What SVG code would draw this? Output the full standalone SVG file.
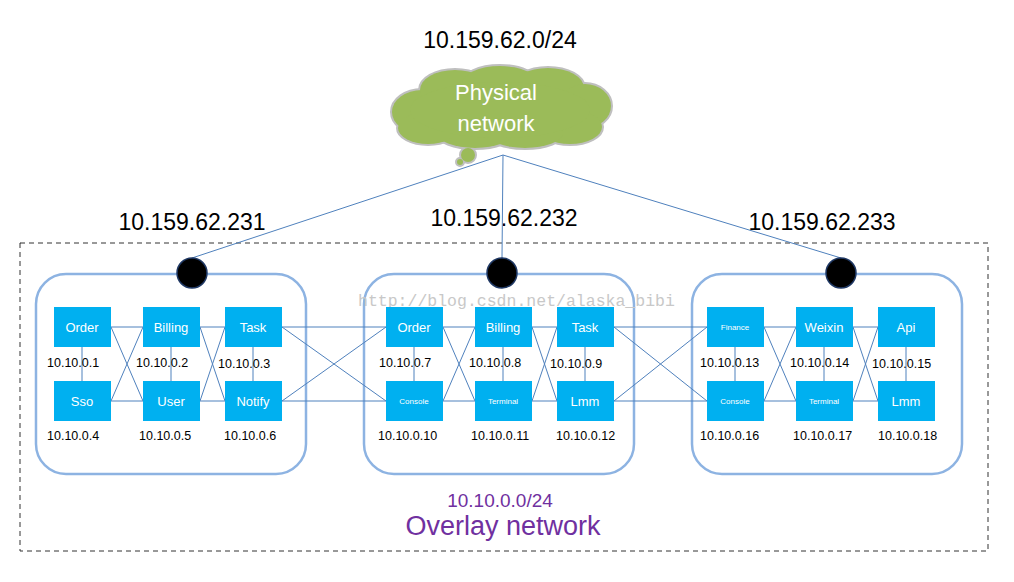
<svg xmlns="http://www.w3.org/2000/svg" width="1014" height="582" viewBox="0 0 1014 582">
<style>
.n rect{fill:#00b0f0}
.n text{fill:#fff;font-family:"Liberation Sans",Arial,sans-serif;font-size:13px;text-anchor:middle}
.n text.s{font-size:8px}
.ip{font-family:"Liberation Sans",Arial,sans-serif;font-size:12.5px;fill:#000}
.big{font-family:"Liberation Sans",Arial,sans-serif;font-size:23px;fill:#000}
.grp{fill:none;stroke:#8db3e2;stroke-width:2.5}
.c line{stroke:#4f81bd;stroke-width:1}
.hub{fill:#000;stroke:#1f3864;stroke-width:1.5}
</style>
<rect x="20" y="243" width="968" height="308" fill="none" stroke="#333" stroke-dasharray="5,4" stroke-width="1"/>
<g id="cloud">
<g fill="none" stroke="#bfbfbf" stroke-width="4">
<ellipse cx="422" cy="112" rx="30" ry="22"/><ellipse cx="455" cy="90" rx="35" ry="20"/><ellipse cx="500" cy="84" rx="38" ry="18"/><ellipse cx="548" cy="88" rx="36" ry="20"/><ellipse cx="585" cy="106" rx="26" ry="22"/><ellipse cx="570" cy="127" rx="32" ry="17"/><ellipse cx="525" cy="133" rx="38" ry="15"/><ellipse cx="475" cy="133" rx="38" ry="15"/><ellipse cx="428" cy="128" rx="30" ry="16"/>
<circle cx="468" cy="155" r="7"/><circle cx="460" cy="162" r="3"/>
</g>
<g fill="#9bbb59">
<ellipse cx="422" cy="112" rx="30" ry="22"/><ellipse cx="455" cy="90" rx="35" ry="20"/><ellipse cx="500" cy="84" rx="38" ry="18"/><ellipse cx="548" cy="88" rx="36" ry="20"/><ellipse cx="585" cy="106" rx="26" ry="22"/><ellipse cx="570" cy="127" rx="32" ry="17"/><ellipse cx="525" cy="133" rx="38" ry="15"/><ellipse cx="475" cy="133" rx="38" ry="15"/><ellipse cx="428" cy="128" rx="30" ry="16"/><ellipse cx="500" cy="110" rx="90" ry="28"/>
<circle cx="468" cy="155" r="7"/><circle cx="460" cy="162" r="3"/>
</g>
<text x="496" y="100" font-family="Liberation Sans,Arial,sans-serif" font-size="22" fill="#fff" text-anchor="middle">Physical</text>
<text x="496" y="131" font-family="Liberation Sans,Arial,sans-serif" font-size="22" fill="#fff" text-anchor="middle">network</text>
</g>
<text class="big" x="500" y="48" text-anchor="middle">10.159.62.0/24</text>
<text class="big" x="192" y="230" text-anchor="middle">10.159.62.231</text>
<text class="big" x="504" y="226" text-anchor="middle">10.159.62.232</text>
<text class="big" x="822" y="230" text-anchor="middle">10.159.62.233</text>
<text x="500" y="507" font-family="Liberation Sans,Arial,sans-serif" font-size="19" fill="#7030a0" text-anchor="middle">10.10.0.0/24</text>
<text x="503" y="535" font-family="Liberation Sans,Arial,sans-serif" font-size="27" fill="#7030a0" text-anchor="middle">Overlay network</text>
<rect class="grp" x="36" y="274" width="270" height="200" rx="30"/>
<rect class="grp" x="364" y="274" width="270" height="200" rx="30"/>
<rect class="grp" x="692" y="274" width="270" height="200" rx="30"/>
<g id="connectors" class="c">
<line x1="503" y1="155" x2="192" y2="258"/><line x1="503" y1="155" x2="502" y2="258"/><line x1="503" y1="155" x2="841" y2="258"/>
<g id="lc">
<line x1="111" y1="327" x2="143" y2="327"/><line x1="111" y1="401" x2="143" y2="401"/><line x1="111" y1="327" x2="143" y2="401"/><line x1="111" y1="401" x2="143" y2="327"/>
<line x1="200" y1="327" x2="225" y2="327"/><line x1="200" y1="401" x2="225" y2="401"/><line x1="200" y1="327" x2="225" y2="401"/><line x1="200" y1="401" x2="225" y2="327"/>
<line x1="82" y1="347" x2="82" y2="381"/><line x1="171" y1="347" x2="171" y2="381"/><line x1="253" y1="347" x2="253" y2="381"/>
<line x1="282" y1="327" x2="386" y2="327"/><line x1="282" y1="401" x2="386" y2="401"/><line x1="282" y1="327" x2="386" y2="401"/><line x1="282" y1="401" x2="386" y2="327"/>
</g>
<g transform="translate(332,0)">
<line x1="111" y1="327" x2="143" y2="327"/><line x1="111" y1="401" x2="143" y2="401"/><line x1="111" y1="327" x2="143" y2="401"/><line x1="111" y1="401" x2="143" y2="327"/>
<line x1="200" y1="327" x2="225" y2="327"/><line x1="200" y1="401" x2="225" y2="401"/><line x1="200" y1="327" x2="225" y2="401"/><line x1="200" y1="401" x2="225" y2="327"/>
<line x1="82" y1="347" x2="82" y2="381"/><line x1="171" y1="347" x2="171" y2="381"/><line x1="253" y1="347" x2="253" y2="381"/>
<line x1="282" y1="327" x2="375" y2="327"/><line x1="282" y1="401" x2="375" y2="401"/><line x1="282" y1="327" x2="375" y2="401"/><line x1="282" y1="401" x2="375" y2="327"/>
</g>
<g transform="translate(653,0)">
<line x1="111" y1="327" x2="143" y2="327"/><line x1="111" y1="401" x2="143" y2="401"/><line x1="111" y1="327" x2="143" y2="401"/><line x1="111" y1="401" x2="143" y2="327"/>
<line x1="200" y1="327" x2="225" y2="327"/><line x1="200" y1="401" x2="225" y2="401"/><line x1="200" y1="327" x2="225" y2="401"/><line x1="200" y1="401" x2="225" y2="327"/>
<line x1="82" y1="347" x2="82" y2="381"/><line x1="171" y1="347" x2="171" y2="381"/><line x1="253" y1="347" x2="253" y2="381"/>
</g>
</g>
<circle id="hub1" class="hub" cx="192" cy="273" r="15"/>
<circle id="hub2" class="hub" cx="502" cy="273" r="15"/>
<circle id="hub3" class="hub" cx="841" cy="273" r="15"/>
<text x="358" y="306" font-family="Liberation Mono,monospace" font-size="16.5" fill="#c8c8c8">http://blog.csdn.net/alaska_bibi</text>
<g class="n" id="order1"><rect x="54" y="307" width="57" height="40"/><text x="82" y="332">Order</text></g>
<g class="n" id="billing1"><rect x="143" y="307" width="57" height="40"/><text x="171" y="332">Billing</text></g>
<g class="n" id="task1"><rect x="225" y="307" width="57" height="40"/><text x="253" y="332">Task</text></g>
<g class="n" id="sso1"><rect x="54" y="381" width="57" height="40"/><text x="82" y="406">Sso</text></g>
<g class="n" id="user1"><rect x="143" y="381" width="57" height="40"/><text x="171" y="406">User</text></g>
<g class="n" id="notify1"><rect x="225" y="381" width="57" height="40"/><text x="253" y="406">Notify</text></g>
<g class="n" id="order2"><rect x="386" y="307" width="57" height="40"/><text x="414" y="332">Order</text></g>
<g class="n" id="billing2"><rect x="475" y="307" width="57" height="40"/><text x="503" y="332">Billing</text></g>
<g class="n" id="task2"><rect x="557" y="307" width="57" height="40"/><text x="585" y="332">Task</text></g>
<g class="n" id="console2"><rect x="386" y="381" width="57" height="40"/><text class="s" x="414" y="404">Console</text></g>
<g class="n" id="terminal2"><rect x="475" y="381" width="57" height="40"/><text class="s" x="503" y="404">Terminal</text></g>
<g class="n" id="lmm2"><rect x="557" y="381" width="57" height="40"/><text x="585" y="406">Lmm</text></g>
<g class="n" id="finance3"><rect x="707" y="307" width="57" height="40"/><text class="s" x="735" y="330">Finance</text></g>
<g class="n" id="weixin3"><rect x="796" y="307" width="57" height="40"/><text x="824" y="332">Weixin</text></g>
<g class="n" id="api3"><rect x="878" y="307" width="57" height="40"/><text x="906" y="332">Api</text></g>
<g class="n" id="console3"><rect x="707" y="381" width="57" height="40"/><text class="s" x="735" y="404">Console</text></g>
<g class="n" id="terminal3"><rect x="796" y="381" width="57" height="40"/><text class="s" x="824" y="404">Terminal</text></g>
<g class="n" id="lmm3"><rect x="878" y="381" width="57" height="40"/><text x="906" y="406">Lmm</text></g>
<g class="ip">
<text x="47" y="367">10.10.0.1</text><text x="136" y="367">10.10.0.2</text><text x="218" y="368">10.10.0.3</text>
<text x="47" y="440">10.10.0.4</text><text x="139" y="440">10.10.0.5</text><text x="224" y="440">10.10.0.6</text>
<text x="379" y="367">10.10.0.7</text><text x="469" y="367">10.10.0.8</text><text x="550" y="368">10.10.0.9</text>
<text x="378" y="440">10.10.0.10</text><text x="471" y="440">10.10.0.11</text><text x="556" y="440">10.10.0.12</text>
<text x="700" y="367">10.10.0.13</text><text x="790" y="367">10.10.0.14</text><text x="872" y="368">10.10.0.15</text>
<text x="700" y="440">10.10.0.16</text><text x="793" y="440">10.10.0.17</text><text x="878" y="440">10.10.0.18</text>
</g>
</svg>
